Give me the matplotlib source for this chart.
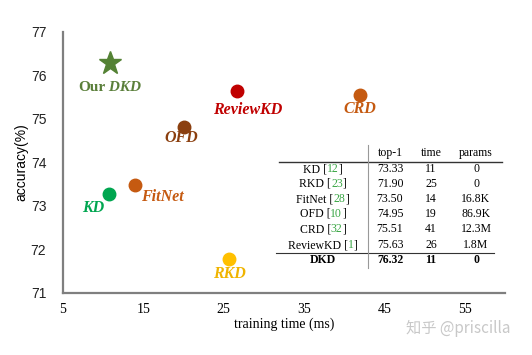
import matplotlib
matplotlib.use('Agg')
import matplotlib.pyplot as plt
from matplotlib.lines import Line2D

plt.rcParams['font.family'] = ['Liberation Serif', 'DejaVu Serif']

# methods plotted (training time in ms, top-1 accuracy)
methods = ['DKD', 'KD', 'FitNet', 'OFD', 'ReviewKD', 'CRD', 'RKD']
times = [10.8, 10.7, 13.9, 20.0, 26.7, 41.9, 25.7]
accs = [76.28, 73.28, 73.49, 74.81, 75.64, 75.55, 71.78]

x_ticks = [5, 15, 25, 35, 45, 55]
y_ticks = [71, 72, 73, 74, 75, 76, 77]

# table contents
tab_names = ['KD', 'RKD', 'FitNet', 'OFD', 'CRD', 'ReviewKD']
tab_refs = ['12', '23', '28', '10', '32', '1']
tab_top1 = ['73.33', '71.90', '73.50', '74.95', '75.51', '75.63']
tab_time = ['11', '25', '14', '19', '41', '26']
tab_params = ['0', '0', '16.8K', '86.9K', '12.3M', '1.8M']
dkd_row = ['DKD', '76.32', '11', '0']

colors = {'DKD': '#548235', 'KD': '#00a650', 'FitNet': '#c55a11',
          'OFD': '#8b3f0f', 'ReviewKD': '#c00000', 'CRD': '#c55a11',
          'RKD': '#ffc000'}
label_colors = dict(colors, DKD='#5a7f3a', RKD='#f0b400')
# label offsets in pixels from the marker
label_off = {'DKD': (0, -24), 'KD': (-16, -14), 'FitNet': (28, -12),
             'OFD': (-2, -11), 'ReviewKD': (10, -19), 'CRD': (0, -14),
             'RKD': (0, -15)}

W, H = 532, 355
fig = plt.figure(figsize=(W / 100, H / 100), dpi=100)
ax = fig.add_axes([63 / W, 1 - 293 / H, (505 - 63) / W, (293 - 32) / H])

for name, t, a in zip(methods, times, accs):
    if name == 'DKD':
        ax.plot(t, a, marker='*', ms=17, color=colors[name], ls='none',
                clip_on=False)
    else:
        ax.plot(t, a, marker='o', ms=9, color=colors[name], ls='none',
                clip_on=False)

ax.set_xlim(5, 60)
ax.set_ylim(71, 77)
ax.set_xticks(x_ticks)
ax.set_yticks(y_ticks)
ax.tick_params(axis='x', length=0, labelsize=10, pad=7)
ax.tick_params(axis='y', length=0, labelsize=10, pad=12)
for lab in ax.get_yticklabels():
    lab.set_family('Liberation Sans')
    lab.set_color('#222222')
for s in ['top', 'right']:
    ax.spines[s].set_visible(False)
for s in ['left', 'bottom']:
    ax.spines[s].set_color('#7f7f7f')
    ax.spines[s].set_linewidth(1.6)
ax.set_xlabel('training time (ms)', fontsize=10, labelpad=1)
ax.set_ylabel('accuracy(%)', fontsize=10, labelpad=2, family='Liberation Sans')

fig.canvas.draw()
renderer = fig.canvas.get_renderer()


def runs_at(px, py, runs, size):
    # draw a centred line of text made of differently styled pieces
    arts = []
    for s, kw in runs:
        arts.append(fig.text(0, 0, s, fontsize=size, va='center', ha='left', **kw))
    widths = [a.get_window_extent(renderer).width for a in arts]
    x = px - sum(widths) / 2
    for a, w in zip(arts, widths):
        a.set_position((x / W, 1 - py / H))
        x += w


# point labels
for name, t, a in zip(methods, times, accs):
    mx, my = ax.transData.transform((t, a))
    dx, dy = label_off[name]
    cx, cy = mx + dx, H - (my + dy)
    c = label_colors[name]
    if name == 'DKD':
        runs_at(cx, cy, [('Our', dict(weight='bold', color=c)),
                         (' DKD', dict(weight='bold', style='italic', color=c))], 11)
    else:
        runs_at(cx, cy, [(name, dict(weight='bold', style='italic', color=c))], 11.5)

# table
col_x = [323, 390, 431, 476]
row_y = [169, 184, 199, 214, 229, 245]
ref_c = '#3aa645'
tsize = 8.5
for x, s in zip(col_x[1:], ['top-1', 'time', 'params']):
    fig.text(x / W, 1 - 153 / H, s, fontsize=tsize, ha='center', va='center')
for i, y in enumerate(row_y):
    runs_at(col_x[0], y, [(tab_names[i] + ' [', {}), (tab_refs[i], dict(color=ref_c)),
                          (']', {})], tsize)
    for x, s in zip(col_x[1:], [tab_top1[i], tab_time[i], tab_params[i]]):
        fig.text(x / W, 1 - y / H, s, fontsize=tsize, ha='center', va='center')
for x, s in zip(col_x, dkd_row):
    fig.text(x / W, 1 - 260 / H, s, fontsize=tsize, ha='center', va='center',
             weight='bold')

fig.add_artist(Line2D([279 / W, 502 / W], [1 - 162 / H] * 2, color='#333333', lw=1))
fig.add_artist(Line2D([276 / W, 494 / W], [1 - 253 / H] * 2, color='#333333', lw=0.8))
fig.add_artist(Line2D([368 / W] * 2, [1 - 145 / H, 1 - 268 / H], color='#999999', lw=0.8))

# watermark
fig.text(510 / W, 1 - 328 / H, '知乎 @priscilla', fontsize=11, color='#c8c8c8',
         ha='right', va='center', family=['Noto Sans CJK SC', 'DejaVu Sans'])

fig.savefig('out.png', dpi=100, facecolor='white')
